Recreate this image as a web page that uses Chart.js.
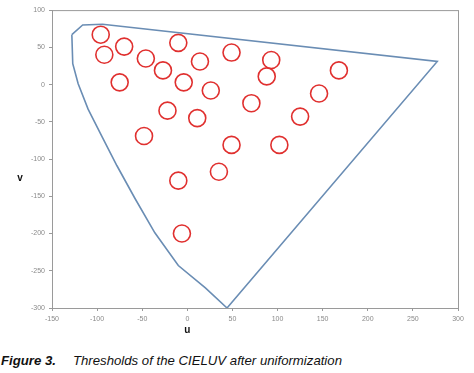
<!DOCTYPE html>
<html>
<head>
<meta charset="utf-8">
<script src="https://cdn.jsdelivr.net/npm/chart.js@4/dist/chart.umd.min.js"></script>
<style>
  html, body { margin: 0; padding: 0; background: #fff; }
  #wrap { position: relative; width: 474px; height: 340px; }
  #caption { font-family: "Liberation Sans", Arial, sans-serif; font-style: italic; font-size: 13.2px;
             color: #111; margin: 13px 0 0 1px; white-space: nowrap; }
  #caption b { margin-right: 17px; }
</style>
</head>
<body>
<div id="wrap"><canvas id="c"></canvas></div>
<div id="caption"><b>Figure 3.</b>Thresholds of the CIELUV after uniformization</div>
<script>
// gamut boundary (u, v), traced clockwise from the top-left corner
const boundaryU = [-128, -116, -94, 277, 44, 20, -10, -36, -58, -78, -95, -110, -121, -127, -128];
const boundaryV = [67, 80, 81, 31, -300, -273, -243, -199, -153, -109, -69, -33, 1, 28, 67];

// threshold ellipse centres
const pointU = [-96, -70, -92, -46, -10, -27, 14, 49, 93, 88, 168, -75, -4, 26, 71, 146, -22, 11, 125, -48, 49, 102, 35, -10, -6];
const pointV = [67, 51, 40, 35, 56, 19, 31, 43, 33, 11, 19, 3, 3, -8, -25, -12, -35, -45, -43, -69, -81, -81, -117, -129, -200];

const uTicks = [-150, -100, -50, 0, 50, 100, 150, 200, 250, 300];
const vTicks = [100, 50, 0, -50, -100, -150, -200, -250, -300];

const frame = {
  id: 'frame',
  afterDraw(chart) {
    const { ctx, chartArea: a, scales } = chart;
    ctx.save();
    ctx.strokeStyle = '#9a9a9a';
    ctx.lineWidth = 1;
    ctx.strokeRect(a.left + 0.5, a.top + 0.5, a.right - a.left, a.bottom - a.top);
    ctx.fillStyle = '#111';
    ctx.font = 'bold 10px "Liberation Sans", Arial, sans-serif';
    ctx.textAlign = 'center';
    ctx.fillText('u', scales.x.getPixelForValue(0), a.bottom + 25);
    ctx.fillText('v', 20, scales.y.getPixelForValue(-130));
    ctx.restore();
  }
};

const tickFont = { size: 7, family: '"Liberation Sans", Arial, sans-serif' };

new Chart(document.getElementById('c'), {
  type: 'scatter',
  data: {
    datasets: [{
      data: boundaryU.map((u, i) => ({ x: u, y: boundaryV[i] })),
      showLine: true,
      borderColor: '#6a8db4',
      borderWidth: 1.6,
      pointRadius: 0,
      fill: false,
      tension: 0
    }, {
      data: pointU.map((u, i) => ({ x: u, y: pointV[i] })),
      pointStyle: 'circle',
      pointRadius: 8.5,
      borderColor: '#e0302f',
      backgroundColor: 'rgba(0,0,0,0)',
      borderWidth: 1.6
    }]
  },
  options: {
    responsive: true,
    maintainAspectRatio: false,
    animation: false,
    layout: { padding: { top: 8, right: 16, left: 0, bottom: 0 } },
    plugins: { legend: { display: false }, tooltip: { enabled: false } },
    scales: {
      x: {
        min: -150, max: 300,
        afterBuildTicks: s => { s.ticks = uTicks.map(v => ({ value: v })); },
        afterFit: s => { s.height = 32; },
        ticks: { color: '#8a8a8a', font: tickFont, padding: 4, maxRotation: 0 },
        grid: { drawOnChartArea: false, tickLength: 3, color: '#9a9a9a' },
        border: { color: '#9a9a9a' }
      },
      y: {
        min: -300, max: 100,
        afterBuildTicks: s => { s.ticks = vTicks.map(v => ({ value: v })); },
        afterFit: s => { s.width = 52; },
        ticks: { color: '#8a8a8a', font: tickFont, padding: 4 },
        grid: { drawOnChartArea: false, tickLength: 3, color: '#9a9a9a' },
        border: { color: '#9a9a9a' }
      }
    }
  },
  plugins: [frame]
});
</script>
</body>
</html>
